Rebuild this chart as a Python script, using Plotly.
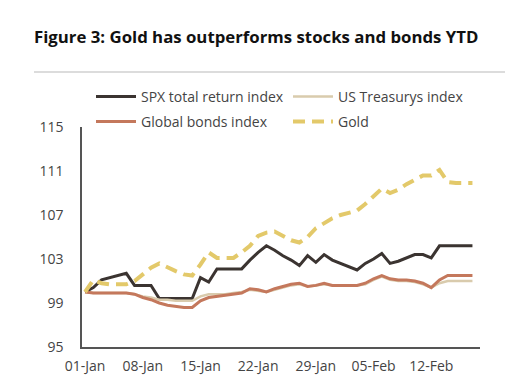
import pandas as pd
import plotly.graph_objects as go

dates = pd.date_range("2020-01-01", periods=48, freq="D")

spx = [100.0, 100.4, 101.1, 101.3, 101.5, 101.7, 100.6, 100.6, 100.6, 99.4,
       99.4, 99.4, 99.4, 99.4, 101.3, 100.9, 102.1, 102.1, 102.1, 102.1,
       102.9, 103.6, 104.2, 103.8, 103.3, 102.9, 102.4, 103.3, 102.7, 103.4,
       102.9, 102.6, 102.3, 102.0, 102.6, 103.0, 103.5, 102.6, 102.8, 103.1,
       103.4, 103.4, 103.1, 104.2, 104.2, 104.2, 104.2, 104.2]

treasury = [100.0, 99.9, 99.9, 99.9, 99.9, 99.9, 99.8, 99.6, 99.5, 99.3,
            99.3, 99.2, 99.2, 99.2, 99.6, 99.8, 99.8, 99.8, 99.9, 100.0,
            100.2, 100.1, 100.0, 100.2, 100.4, 100.6, 100.7, 100.5, 100.6, 100.7,
            100.6, 100.6, 100.6, 100.6, 100.7, 101.1, 101.4, 101.1, 101.0, 101.0,
            100.9, 100.7, 100.4, 100.8, 101.0, 101.0, 101.0, 101.0]

global_bonds = [100.0, 99.9, 99.9, 99.9, 99.9, 99.9, 99.8, 99.5, 99.3, 99.0,
                98.8, 98.7, 98.6, 98.6, 99.2, 99.5, 99.6, 99.7, 99.8, 99.9,
                100.3, 100.2, 100.0, 100.3, 100.5, 100.7, 100.8, 100.5, 100.6, 100.8,
                100.6, 100.6, 100.6, 100.6, 100.8, 101.2, 101.5, 101.2, 101.1, 101.1,
                101.0, 100.8, 100.4, 101.1, 101.5, 101.5, 101.5, 101.5]

gold = [100.0, 101.1, 100.8, 100.7, 100.7, 100.7, 101.0, 101.6, 102.2, 102.6,
        102.2, 101.9, 101.6, 101.5, 102.5, 103.6, 103.1, 103.1, 103.1, 103.6,
        104.2, 105.1, 105.4, 105.5, 105.1, 104.7, 104.5, 105.0, 105.8, 106.3,
        106.7, 107.0, 107.2, 107.4, 108.0, 108.7, 109.4, 109.0, 109.3, 109.8,
        110.2, 110.6, 110.6, 111.1, 110.0, 109.9, 109.9, 109.9]

tick_dates = ["2020-01-01", "2020-01-08", "2020-01-15", "2020-01-22",
              "2020-01-29", "2020-02-05", "2020-02-12"]
tick_labels = ["01-Jan", "08-Jan", "15-Jan", "22-Jan", "29-Jan", "05-Feb", "12-Feb"]
y_ticks = [95, 99, 103, 107, 111, 115]

FONT = "Open Sans"
TXT = "#444444"

fig = go.Figure()
fig.add_trace(go.Scatter(x=dates, y=spx, name="SPX total return index", mode="lines",
                         line=dict(color="#3b3431", width=3), legend="legend"))
fig.add_trace(go.Scatter(x=dates, y=treasury, name="US Treasurys index", mode="lines",
                         line=dict(color="#d9cbad", width=2.5), legend="legend"))
fig.add_trace(go.Scatter(x=dates, y=global_bonds, name="Global bonds index", mode="lines",
                         line=dict(color="#c4785c", width=3), legend="legend2"))
fig.add_trace(go.Scatter(x=dates, y=gold, name="Gold", mode="lines",
                         line=dict(color="#e3c96a", width=4, dash="12px,7px"), legend="legend2"))

leg_common = dict(orientation="h", xanchor="left", yanchor="middle",
                  xref="container", yref="container",
                  entrywidth=142, entrywidthmode="pixels",
                  font=dict(family=FONT, size=14, color=TXT),
                  itemwidth=40, bgcolor="rgba(0,0,0,0)")

fig.update_layout(
    width=505, height=386,
    margin=dict(l=82, r=25, t=127, b=39, autoexpand=False),
    paper_bgcolor="white", plot_bgcolor="white",
    font=dict(family=FONT, size=13, color=TXT),
    title=dict(text="<b>Figure 3: Gold has outperforms stocks and bonds YTD</b>",
               x=34 / 505, xanchor="left", y=1 - 37 / 386, yanchor="middle",
               yref="container", xref="container",
               font=dict(family=FONT, size=16.8, color="#111111")),
    showlegend=True,
    legend=dict(x=91 / 505, y=1 - 97 / 386, **leg_common),
    legend2=dict(x=91 / 505, y=1 - 122 / 386, **leg_common),
    shapes=[dict(type="line", xref="paper", yref="paper",
                 x0=(34 - 82) / 398, x1=(505 - 82) / 398,
                 y0=(347 - 72) / 220, y1=(347 - 72) / 220,
                 line=dict(color="#dcdcdc", width=2))],
)

fig.update_xaxes(type="date", range=["2019-12-31 15:00", "2020-02-17 22:00"],
                 tickvals=tick_dates, ticktext=tick_labels, showgrid=False,
                 showline=True, linecolor="#555555", linewidth=1.5, ticks="",
                 ticklabelstandoff=5,
                 tickfont=dict(family=FONT, size=14, color=TXT), zeroline=False)
fig.update_yaxes(range=[95, 115], tickvals=y_ticks, showgrid=False,
                 showline=True, linecolor="#555555", linewidth=1.5, ticks="",
                 ticklabelstandoff=14,
                 tickfont=dict(family=FONT, size=14, color=TXT), zeroline=False)

fig.write_html("out.html", config={"displayModeBar": False},
               post_script="document.body.style.margin='0px';")
